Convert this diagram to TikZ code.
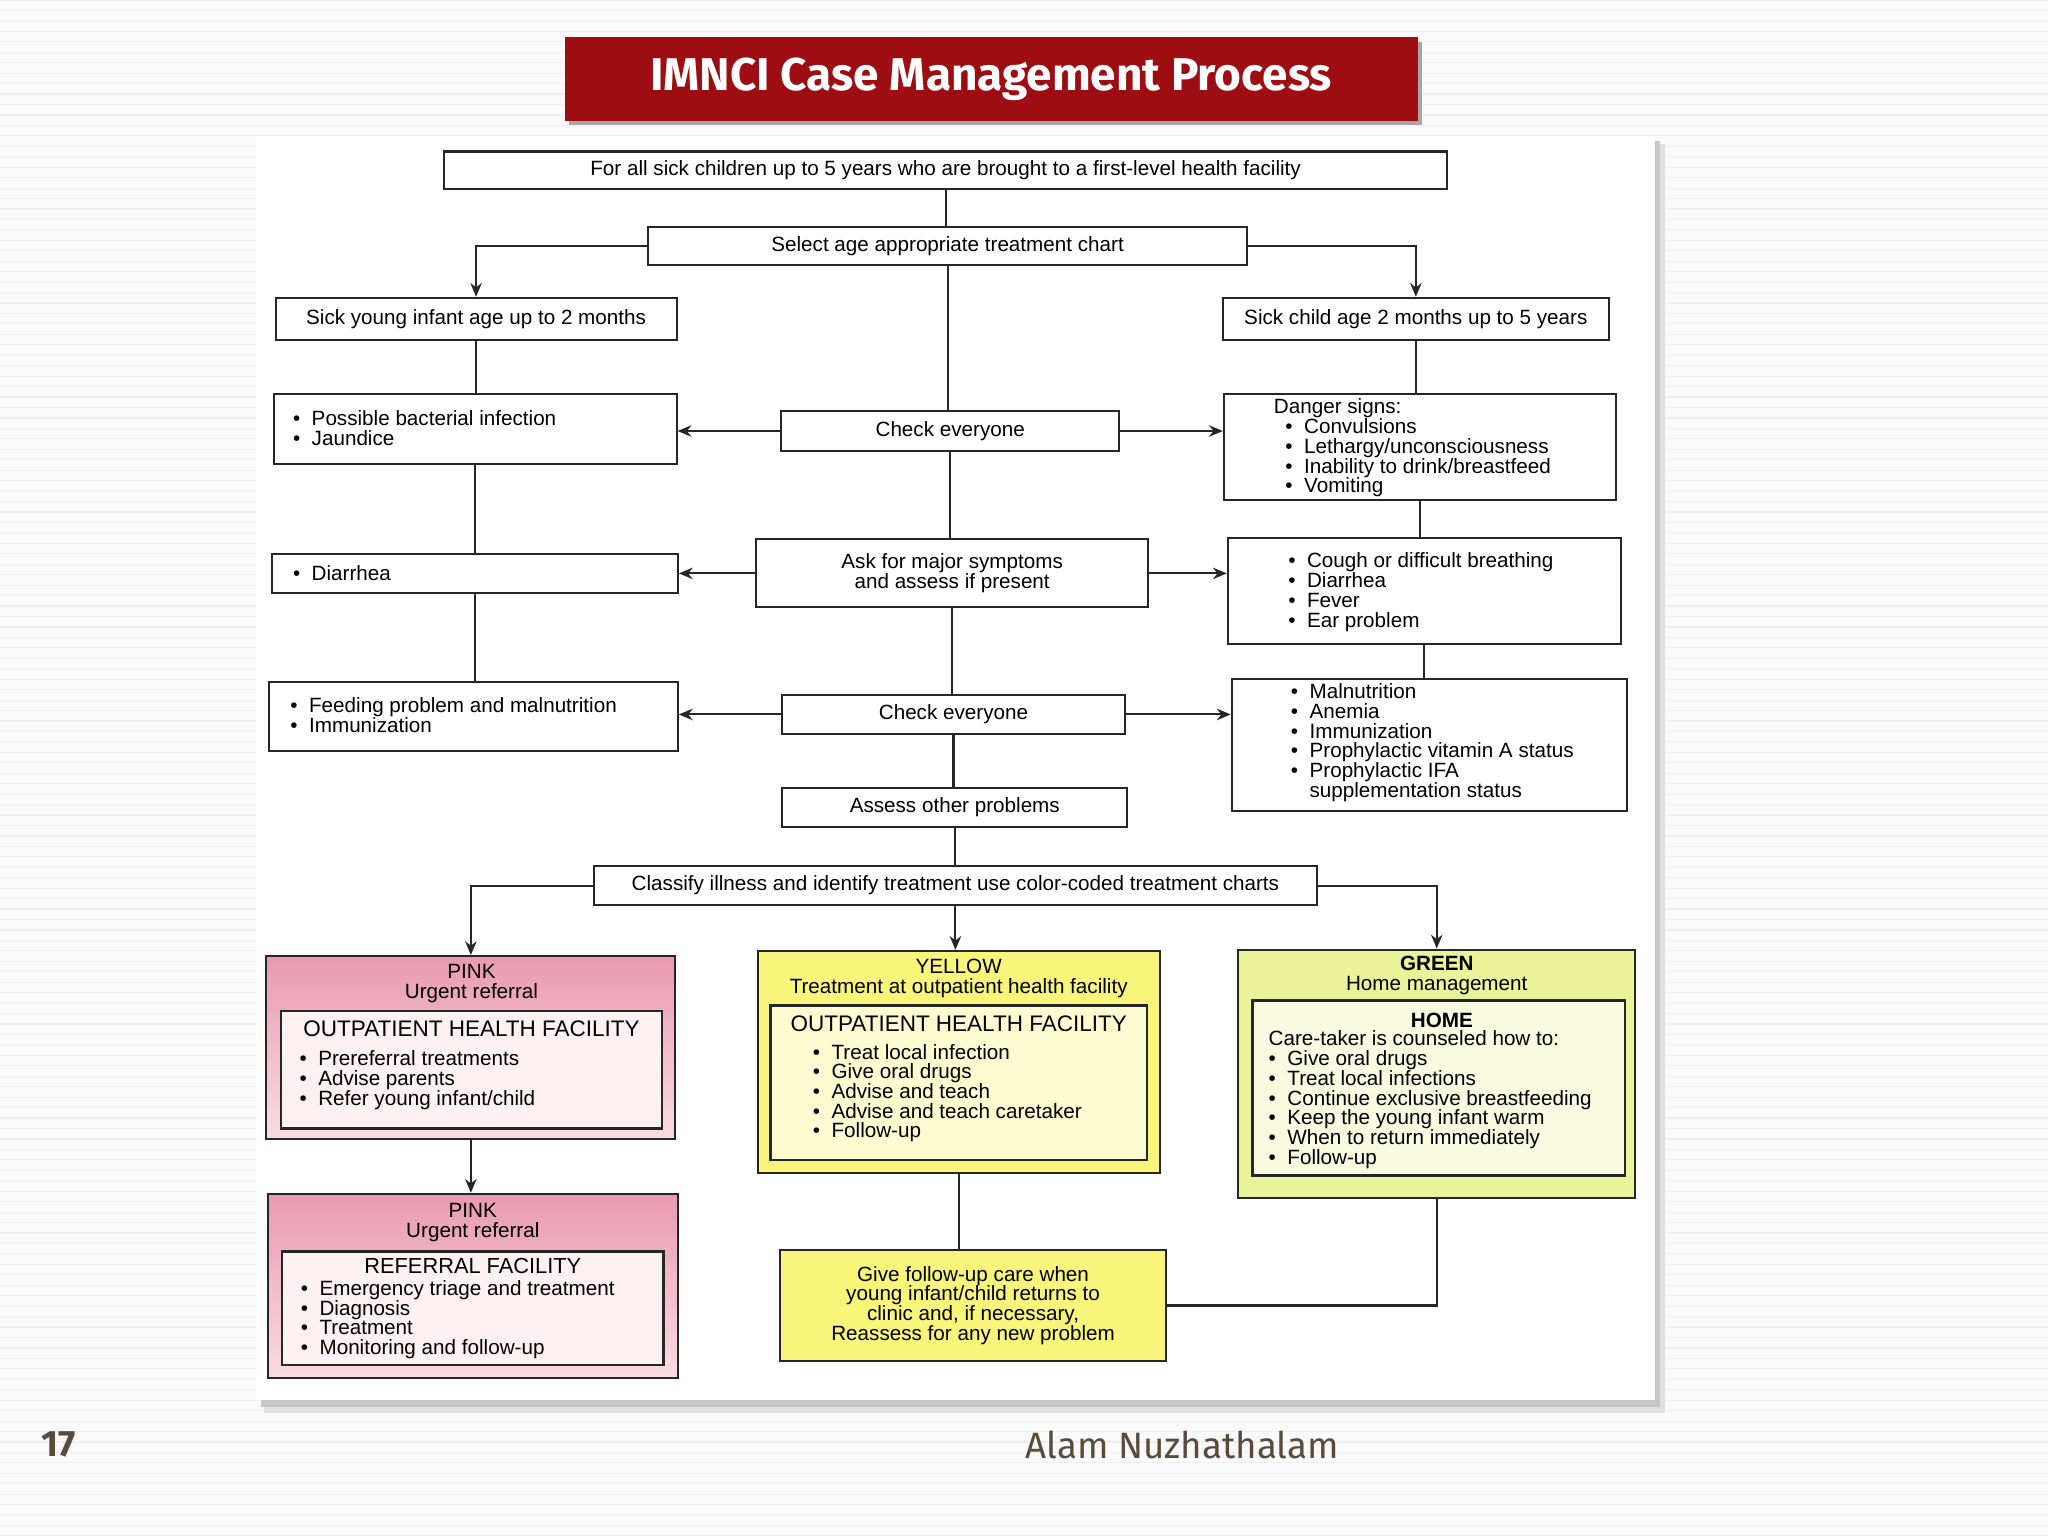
\documentclass[tikz,border=0pt]{standalone}
\usepackage{fontspec}
\setmainfont{Liberation Sans}
\newfontfamily\titlefont{Fira Sans}
\usetikzlibrary{fit,arrows.meta}
\definecolor{banner}{HTML}{9E0D12}
\definecolor{pinkA}{HTML}{E99AB0}
\definecolor{pinkB}{HTML}{F9DCE4}
\definecolor{yelA}{HTML}{F8F57A}
\definecolor{greenA}{HTML}{EAF29A}
\definecolor{footc}{HTML}{5A4A3A}
\tikzset{
 box/.style={draw=black!85,line width=0.9pt,inner sep=0pt},
 txt/.style={font=\fontsize{9}{8.6}\selectfont,align=center,inner sep=0pt},
 lst/.style={font=\fontsize{9}{8.6}\selectfont,align=left,inner sep=0pt,anchor=north west},
 ln/.style={draw=black!85,line width=0.9pt},
 arr/.style={ln,-{Stealth[length=6pt,width=5pt]}},
}
\newcommand{\bx}[6]{\path (#2,#3) coordinate (#1-a) (#4,#5) coordinate (#1-b);
 \node[box,fit=(#1-a)(#1-b),#6] (#1) {};}
\begin{document}
\begin{tikzpicture}[x=0.02cm,y=-0.02cm]
\useasboundingbox (0,0) rectangle (1568,1176);
\fill[black!2] (0,0) rectangle (1568,1176);
\foreach \y in {0,8,...,1176}{\draw[black!6,line width=0.5pt] (0,\y) -- (1568,\y);}
% panel
\fill[black!12] (202,110) rectangle (1275,1082);
\fill[black!22] (200,108) rectangle (1271,1077);
\fill[white] (196,104) rectangle (1267,1072);
% title
\fill[black!35] (436,32) rectangle (1089,96);
\node[fill=banner,minimum width=653*0.02cm,minimum height=64*0.02cm,inner sep=0,anchor=north west,
 font=\titlefont\bfseries\fontsize{20}{22}\selectfont,text=white] (title) at (432,28) {IMNCI Case Management Process};
% boxes
\bx{top}{340}{116}{1108}{145}{}
\node[txt] at (top) {For all sick children up to 5 years who are brought to a first-level health facility};
\bx{sel}{496}{174}{955}{203}{}
\node[txt] at (sel) {Select age appropriate treatment chart};
\bx{l1}{211}{228}{518}{260}{}
\node[txt] at (l1) {Sick young infant age up to 2 months};
\bx{r1}{936}{228}{1232}{260}{}
\node[txt] at (r1) {Sick child age 2 months up to 5 years};
\bx{l2}{210}{302}{518}{355}{}
\node[lst] at (224,314) {\textbullet\ \ Possible bacterial infection\\\textbullet\ \ Jaundice};
\bx{c2}{598}{315}{857}{345}{}
\node[txt] at (c2) {Check everyone};
\bx{r2}{937}{302}{1237}{383}{}
\node[lst] at (975,305) {Danger signs:\\\ \ \textbullet\ \ Convulsions\\\ \ \textbullet\ \ Lethargy/unconsciousness\\\ \ \textbullet\ \ Inability to drink/breastfeed\\\ \ \textbullet\ \ Vomiting};
\bx{l3}{208}{424}{519}{454}{}
\node[lst,anchor=west] at (224,439) {\textbullet\ \ Diarrhea};
\bx{c3}{579}{413}{879}{465}{}
\node[txt] at (c3) {Ask for major symptoms\\and assess if present};
\bx{r3}{940}{412}{1241}{493}{}
\node[lst] at (986,423) {\textbullet\ \ Cough or difficult breathing\\\textbullet\ \ Diarrhea\\\textbullet\ \ Fever\\\textbullet\ \ Ear problem};
\bx{l4}{206}{522}{519}{575}{}
\node[lst] at (222,534) {\textbullet\ \ Feeding problem and malnutrition\\\textbullet\ \ Immunization};
\bx{c4}{599}{532}{861}{562}{}
\node[txt] at (c4) {Check everyone};
\bx{r4}{943}{520}{1246}{621}{}
\node[lst] at (988,523) {\textbullet\ \ Malnutrition\\\textbullet\ \ Anemia\\\textbullet\ \ Immunization\\\textbullet\ \ Prophylactic vitamin A status\\\textbullet\ \ Prophylactic IFA\\\phantom{\textbullet}\ \ supplementation status};
\bx{c5}{599}{603}{863}{633}{}
\node[txt] at (c5) {Assess other problems};
\bx{cl}{455}{663}{1008}{693}{}
\node[txt] at (cl) {Classify illness and identify treatment use color-coded treatment charts};
% colored boxes
\bx{p1}{204}{732}{517}{872}{top color=pinkA,bottom color=pinkB}
\node[txt] at (361,753) {PINK\\Urgent referral};
\bx{p1i}{215}{774}{507}{864}{fill=pinkB!40,line width=1.1pt}
\node[txt,font=\fontsize{9.8}{10}\selectfont] at (361,788) {OUTPATIENT HEALTH FACILITY};
\node[lst] at (229,804) {\textbullet\ \ Prereferral treatments\\\textbullet\ \ Advise parents\\\textbullet\ \ Refer young infant/child};
\bx{y}{580}{728}{888}{898}{fill=yelA}
\node[txt] at (734,749) {YELLOW\\Treatment at outpatient health facility};
\bx{yi}{590}{770}{878}{888}{fill=yelA!35,line width=1.1pt}
\node[txt,font=\fontsize{9.8}{10}\selectfont] at (734,784) {OUTPATIENT HEALTH FACILITY};
\node[lst] at (622,799) {\textbullet\ \ Treat local infection\\\textbullet\ \ Give oral drugs\\\textbullet\ \ Advise and teach\\\textbullet\ \ Advise and teach caretaker\\\textbullet\ \ Follow-up};
\bx{g}{948}{727}{1252}{917}{fill=greenA}
\node[txt] at (1100,747) {\textbf{GREEN}\\Home management};
\bx{gi}{959}{766}{1244}{900}{fill=greenA!30,line width=1.1pt}
\node[txt] at (1104,781) {\textbf{HOME}};
\node[lst] at (971,789) {Care-taker is counseled how to:\\\textbullet\ \ Give oral drugs\\\textbullet\ \ Treat local infections\\\textbullet\ \ Continue exclusive breastfeeding\\\textbullet\ \ Keep the young infant warm\\\textbullet\ \ When to return immediately\\\textbullet\ \ Follow-up};
\bx{p2}{205}{914}{519}{1055}{top color=pinkA,bottom color=pinkB}
\node[txt] at (362,936) {PINK\\Urgent referral};
\bx{p2i}{216}{958}{508}{1045}{fill=pinkB!40,line width=1.1pt}
\node[txt,font=\fontsize{9.5}{10}\selectfont] at (362,969) {REFERRAL FACILITY};
\node[lst] at (230,980) {\textbullet\ \ Emergency triage and treatment\\\textbullet\ \ Diagnosis\\\textbullet\ \ Treatment\\\textbullet\ \ Monitoring and follow-up};
\bx{f}{597}{957}{893}{1042}{fill=yelA}
\node[txt] at (f) {Give follow-up care when\\young infant/child returns to\\clinic and, if necessary,\\Reassess for any new problem};
% connectors
\draw[ln] (top.south) -- (top.south |- sel.north);
\draw[arr] (sel.west) -| (l1.north);
\draw[arr] (sel.east) -| (r1.north);
\draw[ln] (sel.south) -- (sel.south |- c2.north);
\draw[ln] (c2.south) -- (c2.south |- c3.north);
\draw[ln] (c3.south) -- (c3.south |- c4.north);
\draw[ln] (c4.south) -- (c4.south |- c5.north);
\draw[ln] (c5.south) -- (c5.south |- cl.north);
\draw[ln] (l1.south) -- (l1.south |- l2.north);
\draw[ln] (l2.south) -- (l2.south |- l3.north);
\draw[ln] (l3.south) -- (l3.south |- l4.north);
\draw[ln] (r1.south) -- (r1.south |- r2.north);
\draw[ln] (r2.south) -- (r2.south |- r3.north);
\draw[ln] (r3.south) -- (r3.south |- r4.north);
\draw[arr] (c2.west) -- (c2.west -| l2.east);
\draw[arr] (c2.east) -- (c2.east -| r2.west);
\draw[arr] (c3.west) -- (c3.west -| l3.east);
\draw[arr] (c3.east) -- (c3.east -| r3.west);
\draw[arr] (c4.west) -- (c4.west -| l4.east);
\draw[arr] (c4.east) -- (c4.east -| r4.west);
\draw[arr] (cl.west) -| (p1.north);
\draw[arr] (cl.south) -- (cl.south |- y.north);
\draw[arr] (cl.east) -| (g.north);
\draw[arr] (p1.south) -- (p1.south |- p2.north);
\draw[ln] (y.south) -- (y.south |- f.north);
\draw[ln] (g.south) |- (f.east);
% footer
\node[font=\titlefont\bfseries\fontsize{16}{18}\selectfont,text=footc] (pg) at (45,1106) {17};
\node[font=\titlefont\fontsize{16}{18}\selectfont,text=footc] (au) at (905,1106) {Alam Nuzhathalam};
\end{tikzpicture}
\end{document}
